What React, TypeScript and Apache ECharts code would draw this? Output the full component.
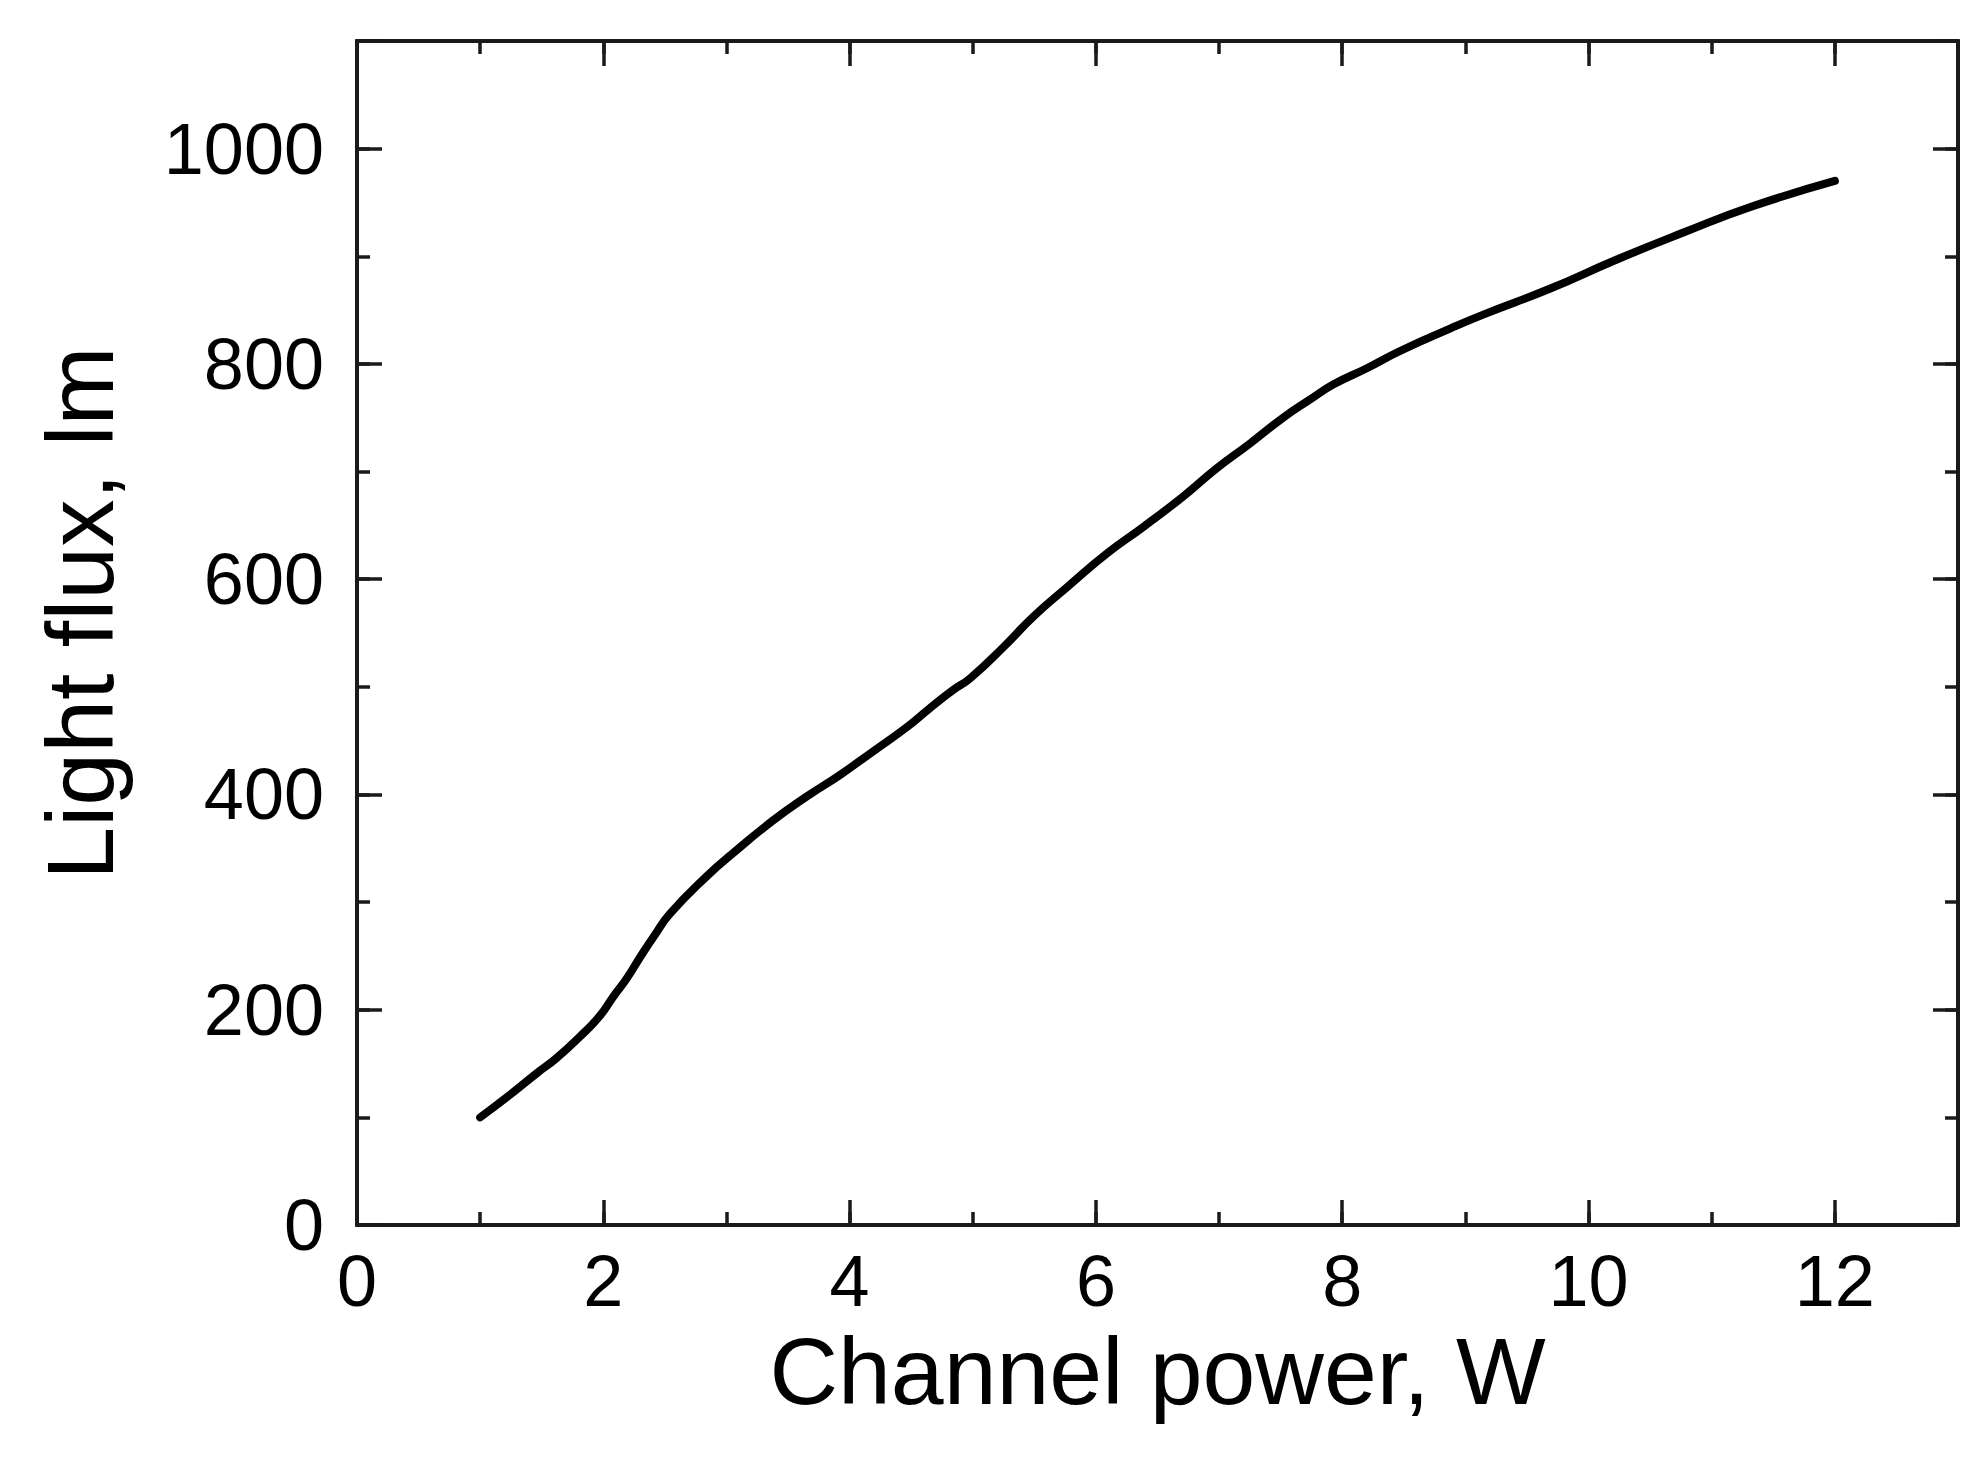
import React, { useEffect, useRef } from "react";
import * as echarts from "echarts";

const powerW = [1.0, 1.22, 1.46, 1.62, 1.81, 1.97, 2.08, 2.19, 2.3, 2.41, 2.54, 2.84, 3.08, 3.38, 3.65, 3.92, 4.19, 4.47, 4.65, 4.84, 4.98, 5.25, 5.49, 5.77, 6.09, 6.39, 6.71, 6.98, 7.25, 7.52, 7.74, 7.93, 8.2, 8.47, 8.88, 9.15, 9.69, 10.23, 10.77, 11.32, 12.0];
const fluxLm = [100, 119, 141, 155, 175, 194, 212, 229, 249, 268, 289, 324, 348, 376, 398, 418, 440, 463, 480, 497, 508, 537, 565, 593, 624, 649, 677, 703, 726, 750, 767, 781, 796, 812, 833, 846, 870, 897, 922, 946, 970];

const xTitle = "Channel power, W";
const yTitle = "Light flux, lm";
const xMin = 0, xMax = 13, xMajor = 2, xMinor = 1;
const yMin = 0, yMax = 1100, yMajor = 200, yMinor = 100;

const FONT = "'Liberation Sans', Arial, Helvetica, sans-serif";
const AXIS_COLOR = "#1a1a1a";

export default function App() {
  const ref = useRef<HTMLDivElement>(null);
  useEffect(() => {
    if (!ref.current) return;
    const chart = echarts.init(ref.current, undefined, { renderer: "svg" });
    const lineStyle = { color: AXIS_COLOR, width: 4 };
    const mkX = (position: string, interval: number, len: number, labels: boolean, named: boolean) => ({
      type: "value",
      position,
      min: xMin,
      max: xMax,
      interval,
      axisLine: { show: true, onZero: false, lineStyle },
      axisTick: { show: true, inside: true, length: len, lineStyle: { color: AXIS_COLOR, width: 3.5 } },
      axisLabel: {
        show: labels,
        margin: 20,
        fontSize: 72,
        fontFamily: FONT,
        color: "#000",
        formatter: (v: number) => (v === xMax ? "" : String(v)),
      },
      splitLine: { show: false },
      name: named ? xTitle : "",
      nameLocation: "middle",
      nameGap: 98,
      nameTextStyle: { fontSize: 95, fontFamily: FONT, color: "#000" },
    });
    const mkY = (position: string, interval: number, len: number, labels: boolean, named: boolean) => ({
      type: "value",
      position,
      min: yMin,
      max: yMax,
      interval,
      axisLine: { show: true, onZero: false, lineStyle },
      axisTick: { show: true, inside: true, length: len, lineStyle: { color: AXIS_COLOR, width: 3.5 } },
      axisLabel: {
        show: labels,
        margin: 33,
        fontSize: 72,
        fontFamily: FONT,
        color: "#000",
        padding: [0, 0, 14, 0],
        formatter: (v: number) => (v === yMax ? "" : String(v)),
      },
      splitLine: { show: false },
      name: named ? yTitle : "",
      nameLocation: "middle",
      nameGap: 230,
      nameTextStyle: { fontSize: 95, fontFamily: FONT, color: "#000", padding: [0, 0, 0, 40] },
    });
    chart.setOption({
      animation: false,
      backgroundColor: "#ffffff",
      grid: { left: 357, right: 26, top: 41, bottom: 237, containLabel: false, outerBoundsMode: "none" },
      xAxis: [
        mkX("bottom", xMajor, 25, true, true),
        mkX("bottom", xMinor, 13, false, false),
        mkX("top", xMajor, 25, false, false),
        mkX("top", xMinor, 13, false, false),
      ],
      yAxis: [
        mkY("left", yMajor, 25, true, true),
        mkY("left", yMinor, 13, false, false),
        mkY("right", yMajor, 25, false, false),
        mkY("right", yMinor, 13, false, false),
      ],
      series: [
        {
          type: "line",
          xAxisIndex: 0,
          yAxisIndex: 0,
          data: powerW.map((x, i) => [x, fluxLm[i]]),
          smooth: 0.5,
          showSymbol: false,
          lineStyle: { color: "#000", width: 8, cap: "round", join: "round" },
        },
      ],
    });
    return () => chart.dispose();
  }, []);
  return (
    <div
      ref={ref}
      style={{ position: "absolute", left: 0, top: 0, width: 1984, height: 1462, background: "#fff" }}
    />
  );
}
